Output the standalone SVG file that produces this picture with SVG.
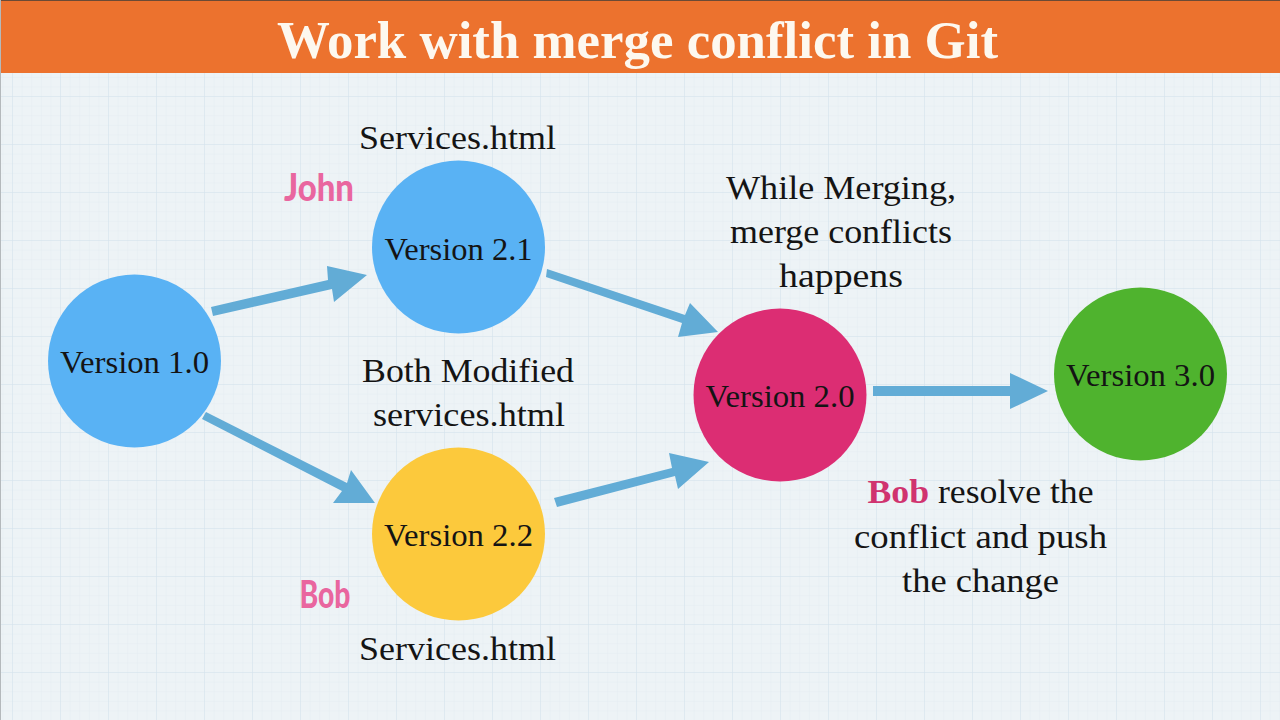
<svg xmlns="http://www.w3.org/2000/svg" width="1280" height="720" viewBox="0 0 1280 720">
<style>
text{font-family:"Liberation Serif","Times New Roman",serif;fill:#141414;font-size:34px;text-anchor:middle}
.ver{font-size:32px}
.title{font-size:52px;font-weight:bold;fill:#fdf8ef}
.who{font-family:"Lato","Open Sans",sans-serif;font-weight:900;font-size:38px;fill:#e9669f}
.arrow{fill:#62acd6}
</style>
<defs>
<pattern id="minor" width="9.6" height="9.6" patternUnits="userSpaceOnUse" x="13" y="1">
<path d="M9.6 0V9.6M0 9.6H9.6" fill="none" stroke="#dde8ee" stroke-width="0.6"/>
</pattern>
<pattern id="major" width="48" height="48" patternUnits="userSpaceOnUse" x="13" y="1">
<path d="M48 0V48M0 48H48" fill="none" stroke="#d3e3ec" stroke-width="1"/>
</pattern>
</defs>
<g id="background">
<rect width="1280" height="720" fill="#edf3f6"/>
<rect width="1280" height="720" fill="url(#minor)"/>
<rect width="1280" height="720" fill="url(#major)"/>
</g>
<g id="banner">
<rect width="1280" height="73" fill="#ec722e"/>
<rect width="1280" height="1" fill="#6b4a35"/>
<rect width="1" height="720" fill="#b4b9bc"/>
<text class="title" x="637.5" y="58" textLength="721" lengthAdjust="spacingAndGlyphs">Work with merge conflict in Git</text>
</g>
<g id="connectors" class="arrow">
<polygon points="211,307 328,280 327,266 367,275 334,302 332,289 213,316"/>
<polygon points="206,412 347,483 351,470 375,503 333,503 342,491 202,419"/>
<polygon points="547,269 685,315 690,303 718,332 678,337 682,323 546,277"/>
<polygon points="554,498 672,468 669,453 709,462 678,489 675,476 557,507"/>
<polygon points="873,386 1010,386 1010,373 1048,391 1010,409 1010,396 873,396"/>
</g>
<g id="v10"><circle cx="134.5" cy="361" r="86.5" fill="#59b2f4"/><text class="ver" x="134.5" y="373" textLength="149" lengthAdjust="spacingAndGlyphs">Version 1.0</text></g>
<g id="v21"><circle cx="458.5" cy="247" r="86.5" fill="#59b2f4"/><text class="ver" x="458.5" y="260" textLength="148" lengthAdjust="spacingAndGlyphs">Version 2.1</text></g>
<g id="v22"><circle cx="458.5" cy="534" r="86.5" fill="#fcc93c"/><text class="ver" x="458.5" y="546" textLength="149" lengthAdjust="spacingAndGlyphs">Version 2.2</text></g>
<g id="v20"><circle cx="780" cy="395" r="86.5" fill="#dc2d73"/><text class="ver" x="780" y="407" textLength="149" lengthAdjust="spacingAndGlyphs">Version 2.0</text></g>
<g id="v30"><circle cx="1140.5" cy="374" r="86.5" fill="#4fb32e"/><text class="ver" x="1140.5" y="386" textLength="149" lengthAdjust="spacingAndGlyphs">Version 3.0</text></g>
<g id="labels">
<text x="457.5" y="149" textLength="197" lengthAdjust="spacingAndGlyphs">Services.html</text>
<text x="457.5" y="660" textLength="197" lengthAdjust="spacingAndGlyphs">Services.html</text>
<text x="468" y="382" textLength="212" lengthAdjust="spacingAndGlyphs">Both Modified</text>
<text x="469" y="426" textLength="192" lengthAdjust="spacingAndGlyphs">services.html</text>
<text x="841" y="199" textLength="230" lengthAdjust="spacingAndGlyphs">While Merging,</text>
<text x="841" y="243" textLength="222" lengthAdjust="spacingAndGlyphs">merge conflicts</text>
<text x="841" y="287" textLength="124" lengthAdjust="spacingAndGlyphs">happens</text>
<text x="980.5" y="503" textLength="226" lengthAdjust="spacingAndGlyphs"><tspan font-weight="bold" fill="#d0336f">Bob</tspan> resolve the</text>
<text x="980.5" y="548" textLength="253" lengthAdjust="spacingAndGlyphs">conflict and push</text>
<text x="980.5" y="592" textLength="157" lengthAdjust="spacingAndGlyphs">the change</text>
<text class="who" x="319" y="201" textLength="70" lengthAdjust="spacingAndGlyphs">John</text>
<text class="who" x="325" y="608" textLength="51" lengthAdjust="spacingAndGlyphs">Bob</text>
</g>
</svg>
